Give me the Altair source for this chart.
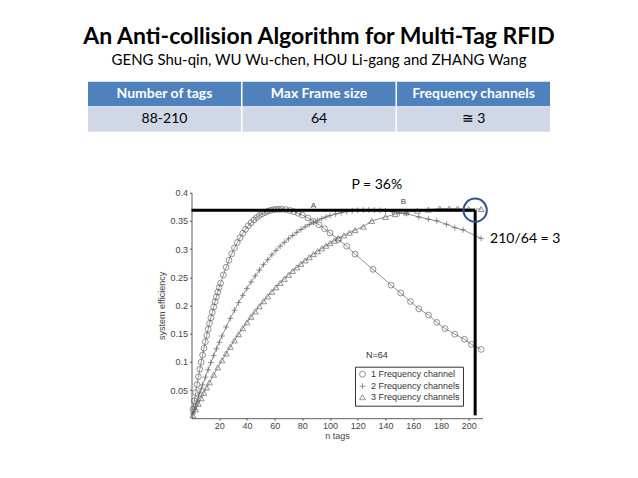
import altair as alt
import pandas as pd

# ---------------- text content ----------------
title_text = "An Anti-collision Algorithm for Multi-Tag RFID"
subtitle_text = "GENG Shu-qin, WU Wu-chen, HOU Li-gang and ZHANG Wang"
table_cols = ["Number of tags", "Max Frame size", "Frequency channels"]
table_vals = ["88-210", "64", "\u2245 3"]
series_names = ["1 Frequency channel", "2 Frequency channels", "3 Frequency channels"]

# ---------------- series ----------------
n1 = [1, 2, 3, 4, 5, 6, 7, 8, 9, 10, 11, 12, 13, 14, 15, 16, 17, 18, 19, 20, 21,
      23, 25, 27, 29, 31, 33, 35, 37, 39, 41, 43, 45, 47, 49, 51, 53, 55, 57, 59, 61, 63,
      65, 68, 71, 74, 77, 80, 84, 88, 92, 96, 100, 106,
      112, 118, 131, 144, 151, 158, 164, 171, 177, 183, 190, 197, 202, 209]
e1 = [0.0156, 0.0308, 0.0454, 0.0596, 0.0734, 0.0867, 0.0995, 0.1120, 0.1240, 0.1356,
      0.1468, 0.1577, 0.1681, 0.1782, 0.1880, 0.1974, 0.2065, 0.2152, 0.2236, 0.2317, 0.2395,
      0.2541, 0.2677, 0.2801, 0.2915, 0.3020, 0.3115, 0.3201, 0.3280, 0.3350, 0.3413, 0.3468,
      0.3516, 0.3559, 0.3595, 0.3626, 0.3651, 0.3671, 0.3687, 0.3698, 0.3705, 0.3708,
      0.3707, 0.3700, 0.3684, 0.3663, 0.3635, 0.3603, 0.3552, 0.3494, 0.3430, 0.3360, 0.3286, 0.3168,
      0.305, 0.291, 0.264, 0.236, 0.222, 0.207, 0.194, 0.183, 0.170, 0.159, 0.149, 0.140, 0.131, 0.122]

n2 = [1, 2, 3, 4, 5, 6, 7, 8, 10, 12, 14, 16, 18, 20, 22,
      25, 28, 31, 34, 37, 40, 43, 46, 49, 52, 55, 58, 61, 64, 67, 70, 73, 76, 79, 82, 85, 88,
      91, 94, 97, 100, 104, 108, 112, 116, 120, 124, 128, 132, 136, 140, 145, 150, 155,
      164, 171, 177, 184, 190, 196, 209]
e2 = [0.0078, 0.0155, 0.0231, 0.0305, 0.0379, 0.0451, 0.0522, 0.0592, 0.0728, 0.0860,
      0.0988, 0.1111, 0.1231, 0.1346, 0.1458,
      0.1618, 0.1770, 0.1914, 0.2051, 0.2180, 0.2302, 0.2416, 0.2525, 0.2627, 0.2723, 0.2813,
      0.2898, 0.2977, 0.3050, 0.3119, 0.3183, 0.3242, 0.3297, 0.3348, 0.3394, 0.3436, 0.3475,
      0.3510, 0.3541, 0.3569, 0.3594, 0.3622, 0.3645, 0.3664, 0.3677, 0.3686, 0.3692, 0.3693,
      0.3691, 0.3686, 0.3677, 0.3661, 0.3642, 0.3630,
      0.357, 0.353, 0.350, 0.344, 0.338, 0.334, 0.319]

n3 = [1, 3, 5, 7, 9, 11, 13,
      16, 19, 22, 25, 28, 31, 34, 37, 40, 43, 46, 49, 52, 55, 58, 61, 64, 67, 70, 73, 76, 79,
      82, 85, 88, 91, 94, 97, 100, 103, 106, 110, 114, 118, 124, 130,
      140, 147, 155, 163, 171, 179, 186, 192, 200, 209]
e3 = [0.0052, 0.0155, 0.0255, 0.0353, 0.0450, 0.0544, 0.0636,
      0.0771, 0.0901, 0.1027, 0.1149, 0.1267, 0.1380, 0.1490, 0.1597, 0.1699, 0.1799, 0.1894,
      0.1986, 0.2075, 0.2161, 0.2243, 0.2322, 0.2399, 0.2472, 0.2543, 0.2611, 0.2676, 0.2738,
      0.2798, 0.2855, 0.2910, 0.2962, 0.3012, 0.3060, 0.3106, 0.3149, 0.3191, 0.3243, 0.3291,
      0.3336, 0.3398, 0.350,
      0.357, 0.362, 0.365, 0.368, 0.370, 0.372, 0.372, 0.372, 0.371, 0.371]

x_ticks = [20, 40, 60, 80, 100, 120, 140, 160, 180, 200]
y_ticks = [0.05, 0.1, 0.15, 0.2, 0.25, 0.3, 0.35, 0.4]

# annotation values (data units)
threshold = 0.369
cut_n = 204.7
rule_bottom = 0.005
p_label = ["P = 36%"]
p_x, p_y = [133.7], [0.4136]
ratio_label = ["210/64 = 3"]
ratio_x, ratio_y = [215.5], [0.318]
ab_labels = ["A", "B"]
ab_x, ab_y = [88, 153], [0.376, 0.383]
n_label = ["N=64"]
n_x, n_y = [133.7], [0.112]

# ---------------- tables ----------------
rows = []
for name, ns, es in zip(series_names, [n1, n2, n3], [e1, e2, e3]):
    for n, e in zip(ns, es):
        rows.append({"series": name, "n": n, "eff": e})
df = pd.DataFrame(rows)

cells = []
for c, v in zip(table_cols, table_vals):
    cells.append({"col": c, "row": "header", "label": c})
    cells.append({"col": c, "row": "value", "label": v})
table_df = pd.DataFrame(cells)

plus_path = "M-1,0L1,0M0,-1L0,1"
grey = "#555555"

xs = alt.Scale(domain=[0, 210], nice=False, zero=False)
ys = alt.Scale(domain=[0, 0.4], nice=False, zero=False)

x_axis = alt.Axis(values=x_ticks, orient="bottom", title="n tags", grid=False, tickSize=2,
                  labelPadding=1, titlePadding=1, labelOverlap=False, labelFlush=False)
y_axis = alt.Axis(values=y_ticks, orient="left", title="system efficiency", format="~g",
                  grid=False, tickSize=2, labelPadding=2, titlePadding=3, labelOverlap=False,
                  labelFlush=False)

lines = alt.Chart(df).mark_line(color="#777777", strokeWidth=0.8).encode(
    x=alt.X("n:Q", scale=xs, axis=x_axis),
    y=alt.Y("eff:Q", scale=ys, axis=y_axis),
    detail="series:N",
)

points = alt.Chart(df).mark_point(filled=False, color=grey, strokeWidth=0.9, size=34).encode(
    x=alt.X("n:Q", axis=x_axis),
    y=alt.Y("eff:Q", axis=y_axis),
    shape=alt.Shape(
        "series:N",
        scale=alt.Scale(domain=series_names, range=["circle", plus_path, "triangle-up"]),
        legend=alt.Legend(
            title=None, orient="none", legendX=163.5, legendY=174,
            strokeColor="#333333", fillColor="white", padding=3,
            labelFont="Liberation Sans", labelFontSize=9, labelColor="#333333",
            symbolSize=34, symbolStrokeColor=grey, symbolStrokeWidth=0.9,
            rowPadding=1, labelLimit=200,
        ),
    ),
)

hline = alt.Chart(pd.DataFrame({"x": [0], "x2": [cut_n], "y": [threshold]})).mark_rule(
    color="black", strokeWidth=3).encode(x=alt.X("x:Q", axis=x_axis), x2="x2:Q",
                                         y=alt.Y("y:Q", axis=y_axis))
vline = alt.Chart(pd.DataFrame({"x": [cut_n], "y": [threshold], "y2": [rule_bottom]})).mark_rule(
    color="black", strokeWidth=3).encode(x=alt.X("x:Q", axis=x_axis),
                                         y=alt.Y("y:Q", axis=y_axis), y2="y2:Q")

ellipse = alt.Chart(pd.DataFrame({"x": [cut_n], "y": [threshold]})).mark_point(
    shape="circle", size=540, filled=False, color="#2f528f", strokeWidth=2, opacity=1
).encode(x=alt.X("x:Q", axis=x_axis), y=alt.Y("y:Q", axis=y_axis))

p_text = alt.Chart(pd.DataFrame({"x": p_x, "y": p_y, "t": p_label})).mark_text(
    font="Lato", fontSize=14, color="black", align="center", baseline="middle"
).encode(x=alt.X("x:Q", axis=x_axis), y=alt.Y("y:Q", axis=y_axis), text="t:N")

ratio_text = alt.Chart(pd.DataFrame({"x": ratio_x, "y": ratio_y, "t": ratio_label})).mark_text(
    font="Lato", fontSize=14, color="black", align="left", baseline="middle"
).encode(x=alt.X("x:Q", axis=x_axis), y=alt.Y("y:Q", axis=y_axis), text="t:N")

ab_text = alt.Chart(pd.DataFrame({"x": ab_x, "y": ab_y, "t": ab_labels})).mark_text(
    font="Liberation Sans", fontSize=8, color="#444444", align="center", baseline="middle"
).encode(x=alt.X("x:Q", axis=x_axis), y=alt.Y("y:Q", axis=y_axis), text="t:N")

n_text = alt.Chart(pd.DataFrame({"x": n_x, "y": n_y, "t": n_label})).mark_text(
    font="Liberation Sans", fontSize=9, color="#333333", align="center", baseline="middle"
).encode(x=alt.X("x:Q", axis=x_axis), y=alt.Y("y:Q", axis=y_axis), text="t:N")

plot = alt.layer(lines, points, hline, vline, ellipse, p_text, ratio_text, ab_text, n_text)

# ---------------- header table ----------------
col_scale = alt.Scale(domain=table_cols, range=[-103.5, 358.5], paddingInner=0.01, paddingOuter=0)
row_scale = alt.Scale(domain=["header", "value"], range=[-111, -61], paddingInner=0.03,
                      paddingOuter=0)

rects = alt.Chart(table_df).mark_rect().encode(
    x=alt.X("col:N", scale=col_scale, axis=None),
    y=alt.Y("row:N", scale=row_scale, axis=None),
    color=alt.Color("row:N", scale=alt.Scale(domain=["header", "value"],
                                             range=["#4f81bd", "#d0d8e8"]), legend=None),
)
head_text = alt.Chart(table_df).transform_filter(alt.datum.row == "header").mark_text(
    font="Lato", fontSize=14, fontWeight="bold", color="white", baseline="middle"
).encode(x=alt.X("col:N", axis=None), y=alt.Y("row:N", axis=None), text="label:N")
val_text = alt.Chart(table_df).transform_filter(alt.datum.row == "value").mark_text(
    font="Lato", fontSize=14, color="black", baseline="middle"
).encode(x=alt.X("col:N", axis=None), y=alt.Y("row:N", axis=None), text="label:N")

table = alt.layer(rects, head_text, val_text)

chart = alt.layer(table, plot).resolve_scale(
    x="independent", y="independent", color="independent"
).resolve_axis(x="independent", y="independent").properties(
    width=291,
    height=225.5,
    title=alt.TitleParams(
        text=title_text, subtitle=subtitle_text, anchor="start", frame="group",
        align="center", dx=127.5, offset=14,
        font="Lato", fontSize=23, fontWeight="bold", color="black",
        subtitleFont="Lato", subtitleFontSize=15, subtitleColor="black", subtitlePadding=4,
    ),
    autosize=alt.AutoSizeParams(type="none"),
    padding={"left": 183.5, "top": 184.7, "right": 140, "bottom": 40},
).configure_view(stroke=None).configure_axis(
    labelFont="Liberation Sans", labelFontSize=9, labelColor="#444444",
    titleFont="Liberation Sans", titleFontSize=9, titleFontWeight="normal", titleColor="#444444",
    domainColor="#333333", tickColor="#333333", domainWidth=0.8, tickWidth=0.8,
    labelOverlap=False,
)

chart.save("out.html", embed_options={"renderer": "svg", "actions": False})
